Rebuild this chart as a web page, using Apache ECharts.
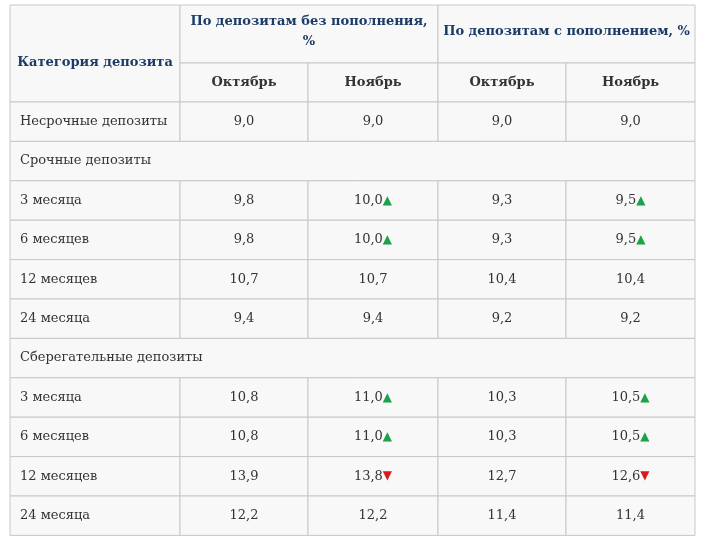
<!DOCTYPE html><html><head><meta charset="utf-8">
<script src="https://cdn.jsdelivr.net/npm/echarts@6/dist/echarts.min.js"></script>
<style>html,body{margin:0;background:#fff}#c{width:705px;height:540px}</style></head><body><div id="c"></div>
<script>
const groupHeaders=['По депозитам без пополнения,\n%','По депозитам с пополнением, %'];
const months=['Октябрь','Ноябрь','Октябрь','Ноябрь'];
const categories=['Несрочные депозиты','Срочные депозиты','3 месяца','6 месяцев','12 месяцев','24 месяца','Сберегательные депозиты','3 месяца','6 месяцев','12 месяцев','24 месяца'];
const octNoRefill=[9.0,null,9.8,9.8,10.7,9.4,null,10.8,10.8,13.9,12.2];
const novNoRefill=[9.0,null,10.0,10.0,10.7,9.4,null,11.0,11.0,13.8,12.2];
const octRefill=[9.0,null,9.3,9.3,10.4,9.2,null,10.3,10.3,12.7,11.4];
const novRefill=[9.0,null,9.5,9.5,10.4,9.2,null,10.5,10.5,12.6,11.4];

const colX=[10,180,308,438,566,695];
const top0=5,h1=58,h2=39,rowH=39.4;
const F='"DejaVu Serif", Georgia, serif';
const g=[];
const line='#c8c8c8';
function rect(x,y,w,h){g.push({type:'rect',shape:{x,y,width:w,height:h},style:{fill:'#f8f8f8',stroke:line,lineWidth:1}});}
function text(x,y,t,opt){g.push({type:'text',x,y,style:Object.assign({text:t,font:'13px '+F,fill:'#333',verticalAlign:'middle',align:'center'},opt||{})});}
function fmt(v){return v.toFixed(1).replace('.',',');}
rect(colX[0],top0,colX[1]-colX[0],h1+h2);
text((colX[0]+colX[1])/2,top0+58,'Категория депозита',{font:'bold 13px '+F,fill:'#1b3a66'});
for(let k=0;k<2;k++){const x0=colX[1+2*k],x1=colX[3+2*k];rect(x0,top0,x1-x0,h1);
 text((x0+x1)/2,top0+h1/2-2,groupHeaders[k],{font:'bold 13px '+F,fill:'#1b3a66',lineHeight:20});}
for(let i=0;i<4;i++){rect(colX[1+i],top0+h1,colX[2+i]-colX[1+i],h2);text((colX[1+i]+colX[2+i])/2,top0+h1+h2/2,months[i],{font:'bold 13px '+F});}
const cols=[octNoRefill,novNoRefill,octRefill,novRefill];
categories.forEach((c,r)=>{const y=top0+h1+h2+r*rowH;
 if(octNoRefill[r]==null){rect(colX[0],y,colX[5]-colX[0],rowH);text(colX[0]+10,y+rowH/2,c,{align:'left'});return;}
 rect(colX[0],y,colX[1]-colX[0],rowH);text(colX[0]+10,y+rowH/2,c,{align:'left'});
 cols.forEach((arr,i)=>{const x0=colX[1+i],x1=colX[2+i];rect(x0,y,x1-x0,rowH);
  let mark='';let prev=(i%2===1)?cols[i-1][r]:null;
  if(prev!=null&&arr[r]>prev)mark='up';else if(prev!=null&&arr[r]<prev)mark='down';
  const cx=(x0+x1)/2;
  if(mark){text(cx,y+rowH/2,'{v|'+fmt(arr[r])+'}{'+mark+'|'+(mark==='up'?'▲':'▼')+'}',{rich:{
    v:{font:'13px '+F,fill:'#333'},
    up:{font:'12px "DejaVu Sans"',fill:'#1aa34a'},
    down:{font:'12px "DejaVu Sans"',fill:'#d61b1b'}}});}
  else text(cx,y+rowH/2,fmt(arr[r]));});
});
const ch=echarts.init(document.getElementById('c'));
ch.setOption({animation:false,graphic:g});
</script></body></html>
